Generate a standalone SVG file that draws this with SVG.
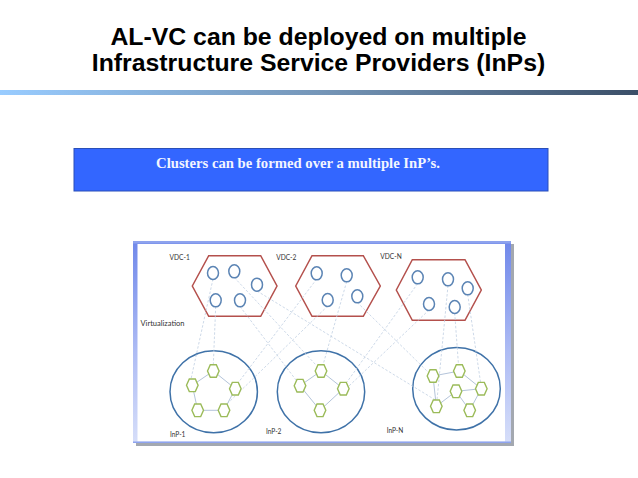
<svg xmlns="http://www.w3.org/2000/svg" width="638" height="478" viewBox="0 0 638 478">
<style>
.title{font:bold 24.8px "Liberation Sans",Arial,sans-serif;fill:#000;text-anchor:middle}
.sub{font:bold 14.7px "Liberation Serif","Times New Roman",serif;fill:#f2f5ff;text-anchor:middle}
.lab{font:7.5px Lato,"Open Sans",sans-serif;fill:#333;text-anchor:middle}
.cap{font-size:6.6px}
.vdc{fill:#fff;stroke:#b4504c;stroke-width:1.5}
.vm{fill:#fff;stroke:#5b84b4;stroke-width:1.5}
.inp{fill:#fff;stroke:#3f72a8;stroke-width:1.5}
.pm{fill:#fff;stroke:#9bbb59;stroke-width:1.4}
.link{stroke:#b4c4da;stroke-width:1;fill:none}
.dash{stroke:#c0cfe2;stroke-width:.8;stroke-dasharray:2.5 1.8;fill:none}
</style>
<defs>
<linearGradient id="bar" x1="0" x2="1" y1="0" y2="0"><stop offset="0" stop-color="#99ccff"/><stop offset=".5" stop-color="#7596b8"/><stop offset="1" stop-color="#3b4f68"/></linearGradient>
<linearGradient id="frame" x1="0" x2="0" y1="0" y2="1"><stop offset="0" stop-color="#7088ea"/><stop offset=".55" stop-color="#aebcf4"/><stop offset="1" stop-color="#d6def9"/></linearGradient>
<polygon id="hex" class="pm" points="-5.8,0 -3,-6.300 3,-6.300 5.800,0 3,6.300 -3,6.300"/>
</defs>
<rect width="638" height="478" fill="#fff"/>
<g id="heading">
<text class="title" x="318.500" y="45">AL-VC can be deployed on multiple</text>
<text class="title" x="318.500" y="71">Infrastructure Service Providers (InPs)</text>
<rect x="0" y="90" width="638" height="5" fill="url(#bar)"/>
</g>
<g id="banner">
<rect x="74" y="148.500" width="474" height="42.500" fill="#3366ff" stroke="#2a4fb8" stroke-width="1"/>
<text class="sub" x="298" y="168">Clusters can be formed over a multiple InP’s.</text>
</g>
<g id="panel">
<rect x="136" y="244" width="378" height="202" fill="#a3a8b0"/>
<rect x="133" y="241" width="378" height="202" fill="url(#frame)"/>
<rect x="137.500" y="244" width="367.500" height="197.500" fill="#fff"/>
<rect x="133" y="241" width="378" height="2.500" fill="#8ea3ee"/>
<rect x="133" y="441.500" width="378" height="1.500" fill="#8ea3ee"/>
</g>
<g id="inp-1"><ellipse class="inp" cx="213.700" cy="391.700" rx="43.700" ry="41"/></g>
<g id="inp-2"><ellipse class="inp" cx="321" cy="391.700" rx="43.700" ry="41"/></g>
<g id="inp-n"><ellipse class="inp" cx="456.500" cy="388.700" rx="43.800" ry="41.300"/></g>
<g id="vdc-1"><polygon class="vdc" points="192.300,286 208.700,255.700 260.700,255.700 277,286 260.700,316.300 208.700,316.300"/></g>
<g id="vdc-2"><polygon class="vdc" points="295.700,286 312,255.700 363.300,255.700 380.300,286 363.300,316.300 312,316.300"/></g>
<g id="vdc-n"><polygon class="vdc" points="396.300,290 412.300,259.700 465,259.700 481.300,290 465,320.300 412.300,320.300"/></g>
<g id="connectors">
<path class="link" d="M213.300 371L192.300 385.300L197.700 410.300L224 410.300L235.300 388.700Z"/>
<path class="link" d="M300 385.700L321 371L343.300 388.700L320 410.300Z"/>
<path class="link" d="M433 376L459.300 371L481.300 388.700L456 391.300L436.300 406.300ZM456 391.300L469.700 410.300L481.300 388.700"/>
<path class="dash" d="M213 279L191 379M215.700 306.500L213.300 365M234.300 277.500L316 365M240 306.500L296 380M257 291L437 401M316.700 279L238 383M327.700 306L226 405M346.700 281.500L323 365M357.300 302.500L428 372M417.700 283.500L347 382M429 310L349 386M448 285.500L437 400M454.700 313L458.500 365M467.700 294.500L480.500 382"/>
</g>
<g id="vms-1"><ellipse class="vm" cx="213" cy="273" rx="5.500" ry="6.500"/><ellipse class="vm" cx="234.300" cy="271.300" rx="5.500" ry="6.500"/><ellipse class="vm" cx="257" cy="284.700" rx="5.500" ry="6.500"/><ellipse class="vm" cx="215.700" cy="300.300" rx="5.500" ry="6.500"/><ellipse class="vm" cx="240" cy="300.300" rx="5.500" ry="6.500"/></g>
<g id="vms-2"><ellipse class="vm" cx="316.700" cy="273.300" rx="5.500" ry="6.500"/><ellipse class="vm" cx="346.700" cy="275.300" rx="5.500" ry="6.500"/><ellipse class="vm" cx="357.300" cy="296.300" rx="5.500" ry="6.500"/><ellipse class="vm" cx="327.700" cy="300" rx="5.500" ry="6.500"/></g>
<g id="vms-n"><ellipse class="vm" cx="417.700" cy="277.300" rx="5.500" ry="6.500"/><ellipse class="vm" cx="448" cy="279.300" rx="5.500" ry="6.500"/><ellipse class="vm" cx="467.700" cy="288.300" rx="5.500" ry="6.500"/><ellipse class="vm" cx="429" cy="304" rx="5.500" ry="6.500"/><ellipse class="vm" cx="454.700" cy="307" rx="5.500" ry="6.500"/></g>
<g id="pms-1"><use href="#hex" x="213.300" y="371"/><use href="#hex" x="192.300" y="385.300"/><use href="#hex" x="235.300" y="388.700"/><use href="#hex" x="197.700" y="410.300"/><use href="#hex" x="224" y="410.300"/></g>
<g id="pms-2"><use href="#hex" x="321" y="371"/><use href="#hex" x="300" y="385.700"/><use href="#hex" x="343.300" y="388.700"/><use href="#hex" x="320" y="410.300"/></g>
<g id="pms-n"><use href="#hex" x="433" y="376"/><use href="#hex" x="459.300" y="371"/><use href="#hex" x="481.300" y="388.700"/><use href="#hex" x="456" y="391.300"/><use href="#hex" x="436.300" y="406.300"/><use href="#hex" x="469.700" y="410.300"/></g>
<g id="labels">
<text class="lab cap" x="179.700" y="259.500">VDC-1</text>
<text class="lab cap" x="286.300" y="259.500">VDC-2</text>
<text class="lab cap" x="391" y="258.500">VDC-N</text>
<text class="lab" x="162.500" y="326">Virtualization</text>
<text class="lab cap" x="177.700" y="436.500">InP-1</text>
<text class="lab cap" x="273.700" y="433.500">InP-2</text>
<text class="lab cap" x="395" y="433">InP-N</text>
</g>
</svg>
